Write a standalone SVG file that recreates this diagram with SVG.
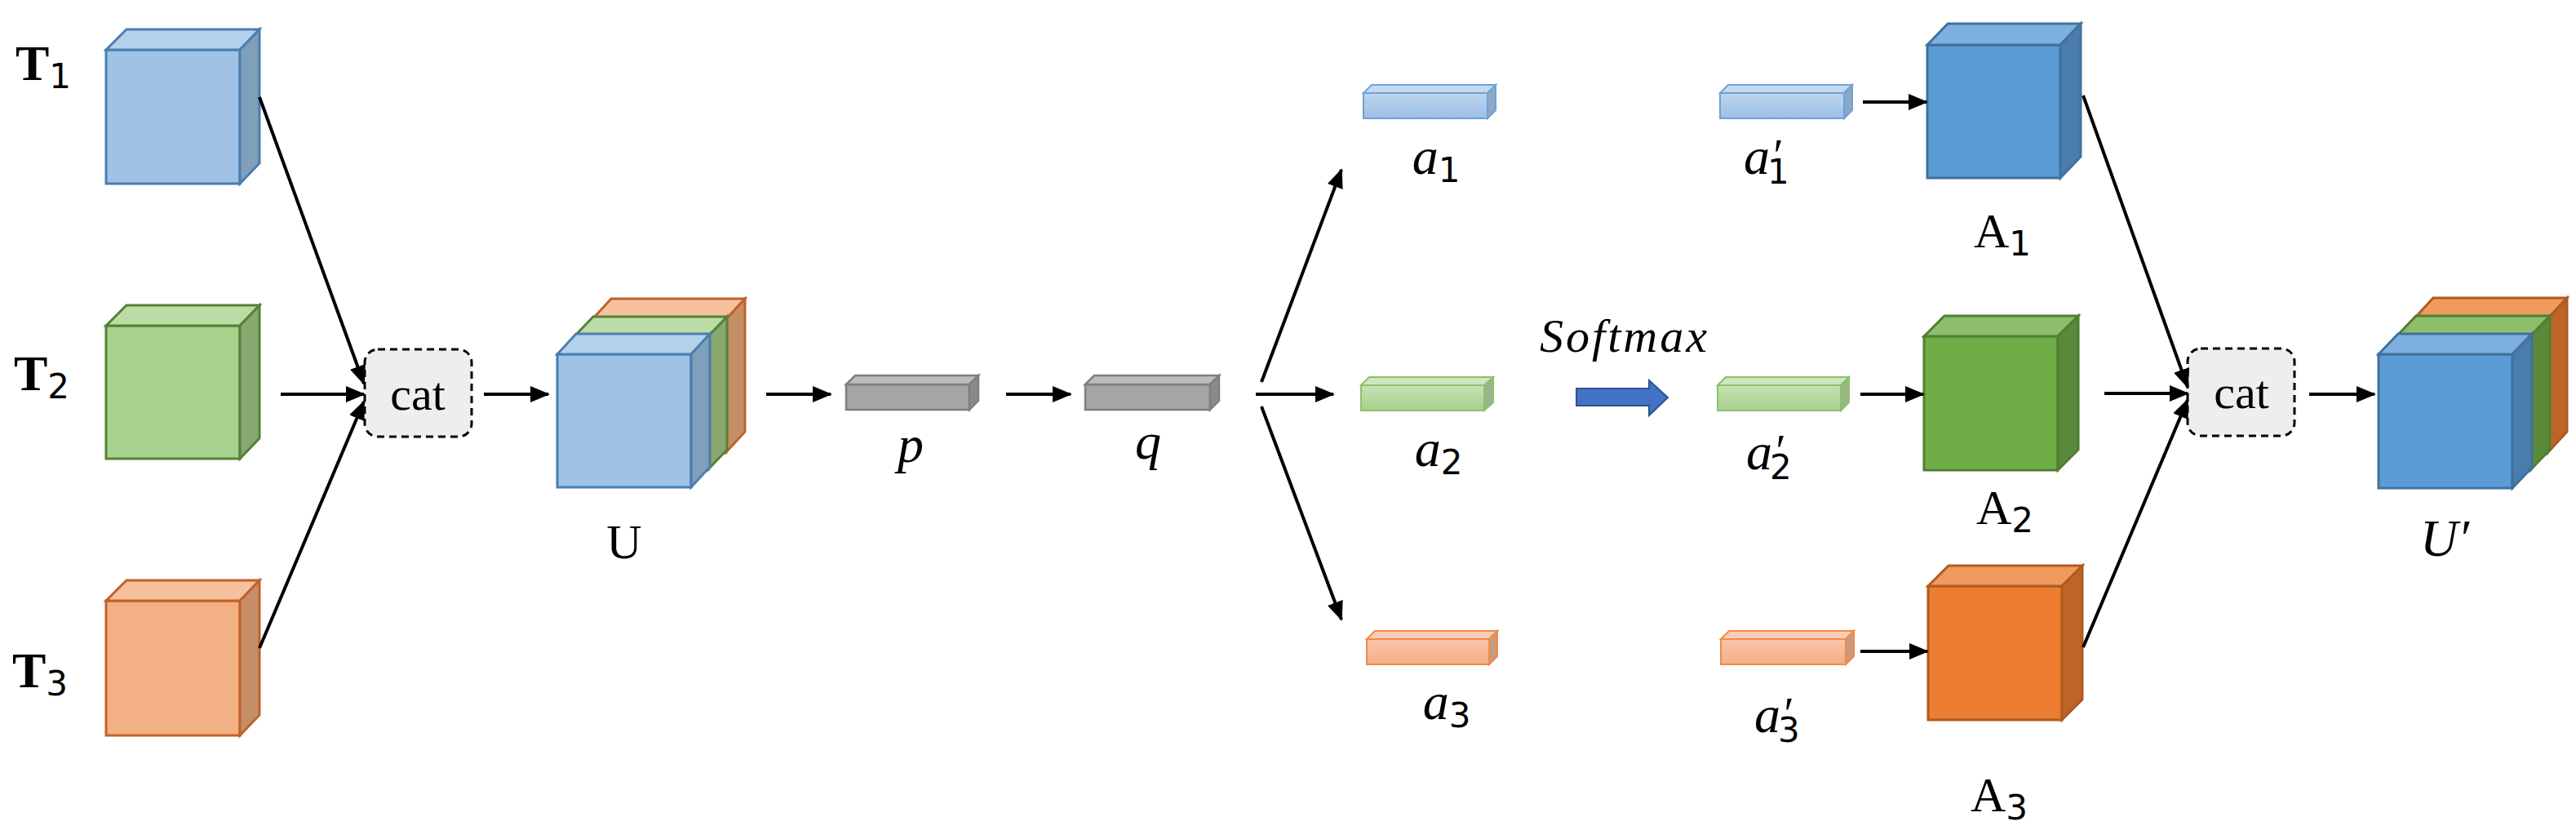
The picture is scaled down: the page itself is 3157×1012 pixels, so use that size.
<svg xmlns="http://www.w3.org/2000/svg" width="3157" height="1012" viewBox="0 0 3157 1012">
<style>
.lb{fill:#9fc2e5;stroke:#4a7eaf;stroke-width:3}.lbt{fill:#b4d1ec;stroke:#4a7eaf;stroke-width:3}.lbs{fill:#7f9fba;stroke:#4a7eaf;stroke-width:3}
.lg{fill:#a9d18e;stroke:#548235;stroke-width:3}.lgt{fill:#bcdca6;stroke:#548235;stroke-width:3}.lgs{fill:#88a870;stroke:#548235;stroke-width:3}
.lo{fill:#f3b084;stroke:#c0622a;stroke-width:3}.lot{fill:#f6c19e;stroke:#c0622a;stroke-width:3}.los{fill:#c58e69;stroke:#c0622a;stroke-width:3}
.db{fill:#5b9bd5;stroke:#41719c;stroke-width:3}.dbt{fill:#7db0df;stroke:#41719c;stroke-width:3}.dbs{fill:#4a7dab;stroke:#41719c;stroke-width:3}
.dg{fill:#70ad47;stroke:#507e32;stroke-width:3}.dgt{fill:#8dbe6c;stroke:#507e32;stroke-width:3}.dgs{fill:#5a8a39;stroke:#507e32;stroke-width:3}
.do{fill:#ed7d31;stroke:#ae5a21;stroke-width:3}.dot{fill:#f19a5e;stroke:#ae5a21;stroke-width:3}.dos{fill:#be6428;stroke:#ae5a21;stroke-width:3}
.gy{fill:#a5a5a5;stroke:#7f7f7f;stroke-width:2.5}.gyt{fill:#bcbcbc;stroke:#7f7f7f;stroke-width:2.5}.gys{fill:#8a8a8a;stroke:#7f7f7f;stroke-width:2.5}
.bb{fill:url(#gb);stroke:#6fa2d8;stroke-width:2}.bbt{fill:#c5daf0;stroke:#6fa2d8;stroke-width:2}.bbs{fill:#8aa8c8;stroke:#6fa2d8;stroke-width:2}
.bg{fill:url(#gg);stroke:#8cc26a;stroke-width:2}.bgt{fill:#cfe6c0;stroke:#8cc26a;stroke-width:2}.bgs{fill:#97b586;stroke:#8cc26a;stroke-width:2}
.bo{fill:url(#go);stroke:#f08a4b;stroke-width:2}.bot{fill:#f9cdb3;stroke:#f08a4b;stroke-width:2}.bos{fill:#c99a80;stroke:#f08a4b;stroke-width:2}
.cat{fill:#eeeeee;stroke:#000;stroke-width:3;stroke-dasharray:9 6}
.ct{font-family:'Liberation Serif',serif;font-size:58px;text-anchor:middle}
.tl{font-family:'Liberation Serif',serif;font-weight:bold;font-size:62px}
.mi{font-family:'Liberation Serif',serif;font-style:italic;font-size:64px;text-anchor:middle}
.ms{font-family:'Liberation Serif',serif;font-style:italic;font-size:64px}
.mu{font-family:'Liberation Serif',serif;font-size:60px;text-anchor:middle}
.sb{font-style:normal;font-weight:normal;font-size:42px;font-family:'DejaVu Sans',sans-serif}
.pr{font-family:'Liberation Serif',serif;font-style:italic;font-size:56px}
.c line{stroke:#000;stroke-width:4;marker-end:url(#ah)}
</style>
<defs>
<marker id="ah" markerUnits="userSpaceOnUse" markerWidth="24" markerHeight="20" refX="22" refY="10" orient="auto"><path d="M0,0 L24,10 L0,20 z" fill="#000"/></marker>
<linearGradient id="gb" x1="0" y1="0" x2="0" y2="1"><stop offset="0" stop-color="#bdd5ee"/><stop offset="1" stop-color="#9dc0e6"/></linearGradient>
<linearGradient id="gg" x1="0" y1="0" x2="0" y2="1"><stop offset="0" stop-color="#c5e2b3"/><stop offset="1" stop-color="#a8d08d"/></linearGradient>
<linearGradient id="go" x1="0" y1="0" x2="0" y2="1"><stop offset="0" stop-color="#f9c7aa"/><stop offset="1" stop-color="#f4ad86"/></linearGradient>
</defs>

<g id="T1"><rect class="lb" x="130" y="61" width="164" height="164"/><polygon class="lbt" points="130,61 155,36 318,36 294,61"/><polygon class="lbs" points="294,61 318,36 318,200 294,225"/><text class="tl" x="19" y="98">T<tspan class="sb" dy="10">1</tspan></text></g>
<g id="T2"><rect class="lg" x="130" y="399" width="164" height="163"/><polygon class="lgt" points="130,399 155,374 318,374 294,399"/><polygon class="lgs" points="294,399 318,374 318,537 294,562"/><text class="tl" x="17" y="478">T<tspan class="sb" dy="10">2</tspan></text></g>
<g id="T3"><rect class="lo" x="130" y="736" width="164" height="165"/><polygon class="lot" points="130,736 155,711 318,711 294,736"/><polygon class="los" points="294,736 318,711 318,876 294,901"/><text class="tl" x="15" y="842">T<tspan class="sb" dy="10">3</tspan></text></g>

<g id="cat1"><rect class="cat" x="447" y="428" width="131" height="107" rx="16"/><text class="ct" x="512" y="502">cat</text></g>

<g id="U">
<rect class="lo" x="726" y="391" width="164" height="163"/><polygon class="lot" points="726,391 749,366 913,366 890,391"/><polygon class="los" points="890,391 913,366 913,529 890,554"/>
<rect class="lg" x="704" y="412" width="164" height="163"/><polygon class="lgt" points="704,412 727,388 891,388 868,412"/><polygon class="lgs" points="868,412 891,388 891,551 868,575"/>
<rect class="lb" x="683" y="434" width="164" height="163"/><polygon class="lbt" points="683,434 706,409 870,409 847,434"/><polygon class="lbs" points="847,434 870,409 870,572 847,597"/>
<text class="mu" x="765" y="684">U</text></g>

<g id="p"><rect class="gy" x="1037" y="471" width="151" height="31"/><polygon class="gyt" points="1037,471 1048,460 1199,460 1188,471"/><polygon class="gys" points="1188,471 1199,460 1199,491 1188,502"/><text class="mi" x="1116" y="566">p</text></g>
<g id="q"><rect class="gy" x="1330" y="471" width="153" height="31"/><polygon class="gyt" points="1330,471 1341,460 1494,460 1483,471"/><polygon class="gys" points="1483,471 1494,460 1494,491 1483,502"/><text class="mi" x="1407" y="562">q</text></g>

<g id="a1"><rect class="bb" x="1671" y="114" width="152" height="31"/><polygon class="bbt" points="1671,114 1681,104 1833,104 1823,114"/><polygon class="bbs" points="1823,114 1833,104 1833,135 1823,145"/><text class="mi" x="1760" y="213">a<tspan class="sb" dy="10">1</tspan></text></g>
<g id="a2"><rect class="bg" x="1668" y="472" width="151" height="31"/><polygon class="bgt" points="1668,472 1678,462 1830,462 1819,472"/><polygon class="bgs" points="1819,472 1830,462 1830,493 1819,503"/><text class="mi" x="1763" y="571">a<tspan class="sb" dy="10">2</tspan></text></g>
<g id="a3"><rect class="bo" x="1675" y="783" width="150" height="31"/><polygon class="bot" points="1675,783 1685,773 1835,773 1825,783"/><polygon class="bos" points="1825,783 1835,773 1835,804 1825,814"/><text class="mi" x="1773" y="881">a<tspan class="sb" dy="10">3</tspan></text></g>

<g id="softmax"><text x="1887" y="431" font-family="Liberation Serif, serif" font-style="italic" font-size="58" textLength="205">Softmax</text>
<polygon points="1932,476 2021,476 2021,466 2044,487 2021,509 2021,497 1932,497" fill="#4472c4" stroke="#2f528f" stroke-width="2"/></g>

<g id="a1p"><rect class="bb" x="2108" y="114" width="152" height="31"/><polygon class="bbt" points="2108,114 2118,104 2270,104 2260,114"/><polygon class="bbs" points="2260,114 2270,104 2270,135 2260,145"/><text class="ms" x="2137" y="213">a</text><text class="pr" x="2170" y="210">′</text><text class="sb" x="2166" y="225">1</text></g>
<g id="a2p"><rect class="bg" x="2105" y="472" width="151" height="31"/><polygon class="bgt" points="2105,472 2115,462 2266,462 2256,472"/><polygon class="bgs" points="2256,472 2266,462 2266,493 2256,503"/><text class="ms" x="2140" y="575">a</text><text class="pr" x="2173" y="572">′</text><text class="sb" x="2169" y="587">2</text></g>
<g id="a3p"><rect class="bo" x="2109" y="783" width="153" height="31"/><polygon class="bot" points="2109,783 2119,773 2272,773 2262,783"/><polygon class="bos" points="2262,783 2272,773 2272,804 2262,814"/><text class="ms" x="2150" y="897">a</text><text class="pr" x="2183" y="894">′</text><text class="sb" x="2179" y="909">3</text></g>

<g id="A1"><rect class="db" x="2362" y="55" width="163" height="163"/><polygon class="dbt" points="2362,55 2387,29 2550,29 2525,55"/><polygon class="dbs" points="2525,55 2550,29 2550,192 2525,218"/><text class="mu" x="2454" y="303">A<tspan class="sb" dy="10">1</tspan></text></g>
<g id="A2"><rect class="dg" x="2358" y="412" width="164" height="164"/><polygon class="dgt" points="2358,412 2383,387 2547,387 2522,412"/><polygon class="dgs" points="2522,412 2547,387 2547,551 2522,576"/><text class="mu" x="2457" y="642">A<tspan class="sb" dy="10">2</tspan></text></g>
<g id="A3"><rect class="do" x="2363" y="718" width="164" height="164"/><polygon class="dot" points="2363,718 2388,693 2552,693 2527,718"/><polygon class="dos" points="2527,718 2552,693 2552,857 2527,882"/><text class="mu" x="2450" y="994">A<tspan class="sb" dy="10">3</tspan></text></g>

<g id="cat2"><rect class="cat" x="2681" y="427" width="131" height="107" rx="16"/><text class="ct" x="2747" y="500">cat</text></g>

<g id="Uprime">
<rect class="do" x="2958" y="391" width="164" height="164"/><polygon class="dot" points="2958,391 2982,365 3146,365 3122,391"/><polygon class="dos" points="3122,391 3146,365 3146,529 3122,555"/>
<rect class="dg" x="2937" y="412" width="164" height="164"/><polygon class="dgt" points="2937,412 2961,387 3125,387 3101,412"/><polygon class="dgs" points="3101,412 3125,387 3125,551 3101,576"/>
<rect class="db" x="2915" y="434" width="164" height="164"/><polygon class="dbt" points="2915,434 2939,409 3103,409 3079,434"/><polygon class="dbs" points="3079,434 3103,409 3103,573 3079,598"/>
<text class="mi" x="2996" y="681">U′</text></g>

<g id="connectors" class="c">
<line x1="318" y1="119" x2="446" y2="470"/>
<line x1="344" y1="483" x2="446" y2="483"/>
<line x1="318" y1="794" x2="446" y2="492"/>
<line x1="593" y1="483" x2="672" y2="483"/>
<line x1="939" y1="483" x2="1018" y2="483"/>
<line x1="1233" y1="483" x2="1312" y2="483"/>
<line x1="1546" y1="468" x2="1644" y2="208"/>
<line x1="1539" y1="483" x2="1634" y2="483"/>
<line x1="1546" y1="498" x2="1644" y2="759"/>
<line x1="2283" y1="125" x2="2361" y2="125"/>
<line x1="2280" y1="483" x2="2357" y2="483"/>
<line x1="2280" y1="798" x2="2362" y2="798"/>
<line x1="2553" y1="117" x2="2681" y2="474"/>
<line x1="2579" y1="482" x2="2681" y2="482"/>
<line x1="2553" y1="793" x2="2681" y2="490"/>
<line x1="2830" y1="483" x2="2910" y2="483"/>
</g>
</svg>
